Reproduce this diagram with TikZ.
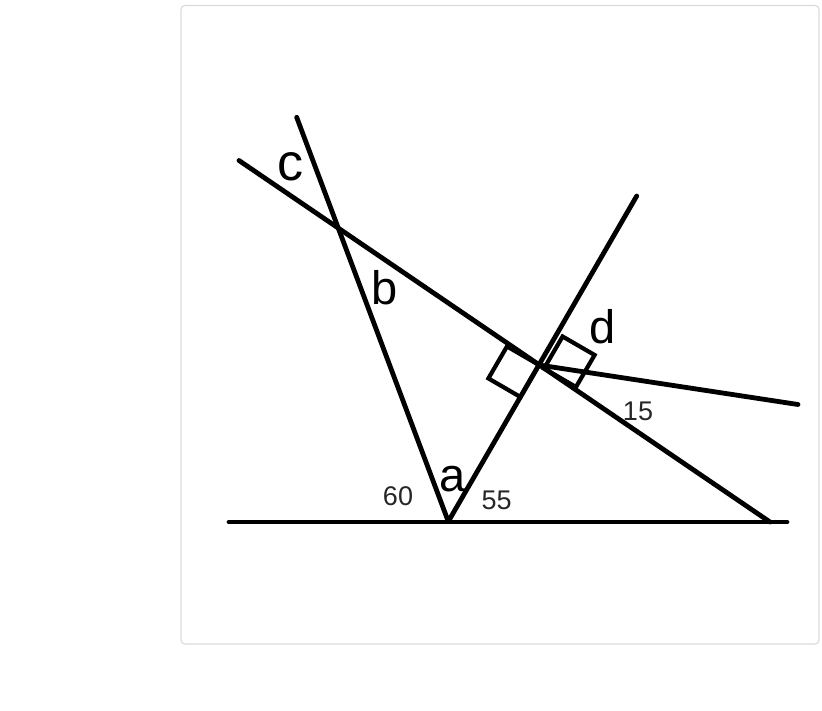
\documentclass[tikz,border=0pt]{standalone}
\usepackage{fontspec}
\setmainfont{Liberation Sans}
\begin{document}
\begin{tikzpicture}[x=1pt,y=-1pt,
  geoline/.style={line width=4.8pt,line cap=round,black},
  rightmark/.style={line width=4.2pt,line join=miter,black},
  letterlbl/.style={anchor=base,inner sep=0pt,font=\fontsize{47}{50}\selectfont},
  numlbl/.style={anchor=base,inner sep=0pt,font=\fontsize{27}{30}\selectfont,text=black!85}]
\useasboundingbox (0,0) rectangle (822,710);
\draw[draw=black!14,line width=1.2pt,rounded corners=4pt] (181,5.5) rectangle (819,644);
% points
\coordinate (BL) at (229,522);
\coordinate (BR) at (787,522);
\coordinate (L1top) at (296.7,117.3);
\coordinate (V) at (448.3,521.5);
\coordinate (L3top) at (239,160.5);
\coordinate (L3end) at (770,522);
\coordinate (L2top) at (636.7,196);
\coordinate (L4end) at (798,404.5);
\coordinate (P) at (539,365);
% right-angle marks
\draw[rightmark] (P) -- (520.4,397) -- (488.4,378.4) -- (507,346.4) -- cycle;
\draw[rightmark] (544,368.5) -- (562.6,336.5) -- (594.6,355) -- (576,387) -- cycle;
% lines
\draw[geoline] (BL) -- (BR);
\draw[geoline] (L1top) -- (V);
\draw[geoline] (V) -- (L2top);
\draw[geoline] (L3top) -- (L3end);
\draw[geoline] (P) -- (L4end);
% labels
\node[letterlbl,font=\fontsize{52}{56}\selectfont] (lc) at (290.8,180) {c};
\node[letterlbl] (lb) at (384.7,304.5) {b};
\node[letterlbl] (la) at (453,491) {a};
\node[letterlbl] (ld) at (602.5,343) {d};
\node[numlbl] (n60) at (398,505) {60};
\node[numlbl] (n55) at (496.7,509) {55};
\node[numlbl] (n15) at (638,420) {15};
\end{tikzpicture}
\end{document}
